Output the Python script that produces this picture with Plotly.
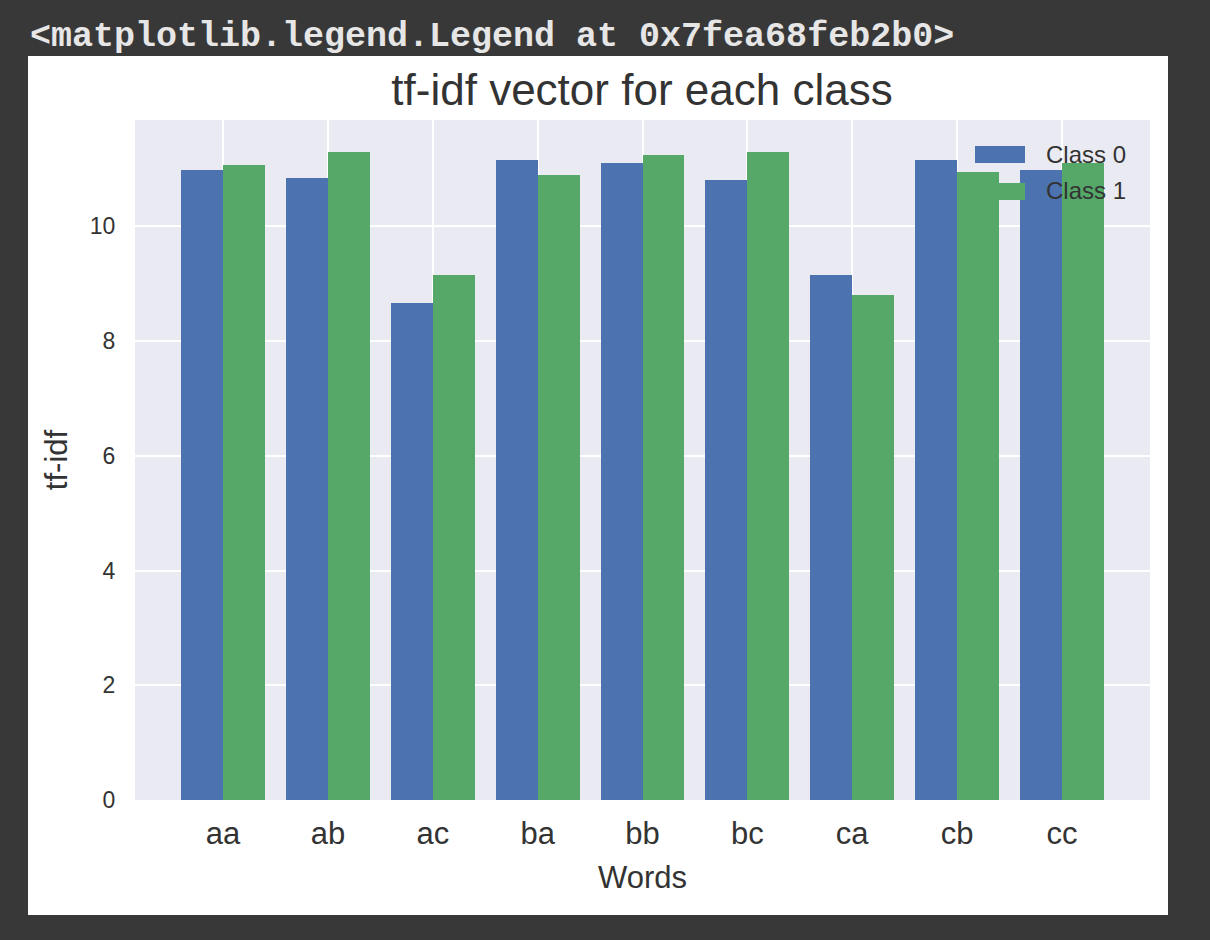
import plotly.graph_objects as go

# ---- data ----
words = ["aa", "ab", "ac", "ba", "bb", "bc", "ca", "cb", "cc"]
class0 = [10.98, 10.85, 8.67, 11.16, 11.11, 10.81, 9.15, 11.16, 10.98]
class1 = [11.07, 11.29, 9.15, 10.90, 11.24, 11.29, 8.80, 10.94, 11.11]
series_names = ["Class 0", "Class 1"]
y_ticks = [0, 2, 4, 6, 8, 10]

BLUE = "#4C72B0"
GREEN = "#55A868"
TXT = "#333333"

W, H = 1210, 940
L, R, T, B = 135, 60, 120, 140  # plot area: x 135..1150, y 120..800
PW, PH = W - L - R, H - T - B


def px_x(px):
    return (px - L) / PW


def px_y(py):
    return (H - B - py) / PH


fig = go.Figure()
fig.add_trace(go.Bar(x=words, y=class0, name=series_names[0], marker_color=BLUE,
                     offset=-0.4, width=0.4, marker_line_width=0, showlegend=False))
fig.add_trace(go.Bar(x=words, y=class1, name=series_names[1], marker_color=GREEN,
                     offset=0.0, width=0.4, marker_line_width=0, showlegend=False))

ymax = max(max(class0), max(class1)) * 1.05

shapes = [
    # notebook output white panel
    dict(type="rect", xref="paper", yref="paper", layer="below",
         x0=px_x(28), x1=px_x(1168), y0=px_y(915), y1=px_y(56),
         fillcolor="white", line_width=0),
    # axes background
    dict(type="rect", xref="paper", yref="paper", layer="below",
         x0=0, x1=1, y0=0, y1=1, fillcolor="#EAEAF2", line_width=0),
    # legend patches
    dict(type="rect", xref="paper", yref="paper", layer="above",
         x0=px_x(975), x1=px_x(1025), y0=px_y(163), y1=px_y(146),
         fillcolor=BLUE, line_width=0),
    dict(type="rect", xref="paper", yref="paper", layer="above",
         x0=px_x(975), x1=px_x(1025), y0=px_y(200), y1=px_y(183),
         fillcolor=GREEN, line_width=0),
]

annotations = [
    dict(text=series_names[0], xref="paper", yref="paper", x=px_x(1044), y=px_y(154),
         xanchor="left", yanchor="middle", showarrow=False,
         font=dict(family="Liberation Sans, Arial, sans-serif", size=24, color=TXT)),
    dict(text=series_names[1], xref="paper", yref="paper", x=px_x(1044), y=px_y(191),
         xanchor="left", yanchor="middle", showarrow=False,
         font=dict(family="Liberation Sans, Arial, sans-serif", size=24, color=TXT)),
    dict(text="&lt;matplotlib.legend.Legend at 0x7fea68feb2b0&gt;", xref="paper", yref="paper",
         x=px_x(28), y=px_y(37), xanchor="left", yanchor="middle", showarrow=False,
         font=dict(family="Liberation Mono, DejaVu Sans Mono, monospace", size=35,
                   color="#E6E6E6", weight="bold")),
]

fig.update_layout(
    width=W, height=H,
    margin=dict(l=L, r=R, t=T, b=B, pad=0),
    paper_bgcolor="#383838",
    plot_bgcolor="#EAEAF2",
    font=dict(family="Liberation Sans, Arial, sans-serif", color=TXT),
    title=dict(text="tf-idf vector for each class", x=px_x(642), xref="paper",
               y=(H - 90) / H, yref="container", xanchor="center", yanchor="middle",
               font=dict(size=44, color=TXT)),
    bargap=0,
    shapes=shapes,
    annotations=annotations,
    xaxis=dict(range=[-0.84, 8.84], showgrid=True, gridcolor="white", gridwidth=2,
               ticks="outside", ticklen=6, tickcolor="rgba(0,0,0,0)",
               tickfont=dict(size=31, color=TXT), showline=False, zeroline=False,
               title=dict(text="Words", font=dict(size=31, color=TXT), standoff=16)),
    yaxis=dict(range=[0, ymax], tickvals=y_ticks, showgrid=True, gridcolor="white", gridwidth=2,
               ticks="outside", ticklen=14, tickcolor="rgba(0,0,0,0)",
               tickfont=dict(size=23, color=TXT), showline=False, zeroline=False,
               title=dict(text="tf-idf", font=dict(size=31, color=TXT), standoff=12)),
)

fig.write_html("out.html")
